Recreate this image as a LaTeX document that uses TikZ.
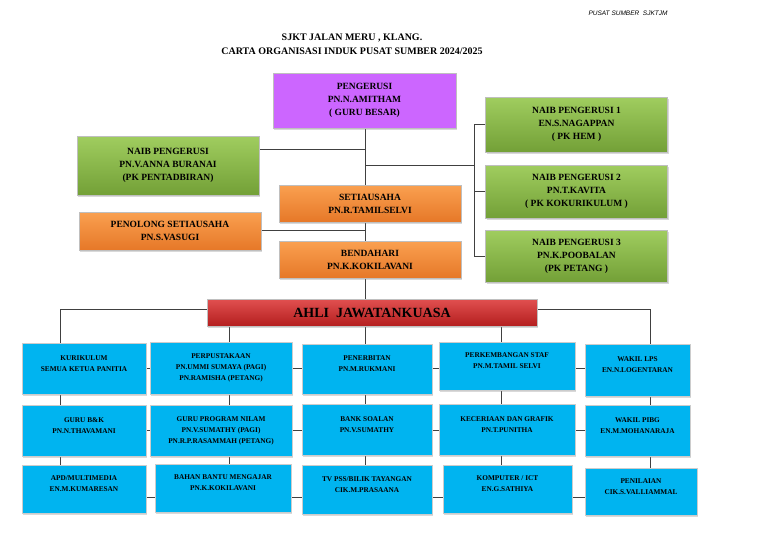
\documentclass[tikz,border=0pt]{standalone}
\usepackage{fontspec}
\setmainfont{Liberation Serif}
\newfontfamily\sansit{Liberation Sans}
\usetikzlibrary{positioning,shadows}
\definecolor{ungu}{RGB}{204,102,255}
\definecolor{hijauA}{RGB}{160,205,95}
\definecolor{hijauB}{RGB}{115,160,55}
\definecolor{oren}{RGB}{250,160,80}
\definecolor{orenB}{RGB}{230,120,40}
\definecolor{biru}{RGB}{0,180,240}
\definecolor{merahA}{RGB}{225,80,80}
\definecolor{merahB}{RGB}{180,30,30}
\tikzset{
  kotak/.style={draw=black!25,align=center,inner sep=1pt,font=\bfseries\fontsize{9.5}{13}\selectfont,drop shadow={opacity=0.3,shadow xshift=1pt,shadow yshift=-1.5pt}},
  hijau/.style={kotak,top color=hijauA,bottom color=hijauB,minimum width=182pt},
  jingga/.style={kotak,top color=oren,bottom color=orenB,minimum width=182pt},
  biruk/.style={draw=black!20,fill=biru,align=center,anchor=north,inner sep=2pt,font=\bfseries\fontsize{7.3}{11}\selectfont,drop shadow={opacity=0.3,shadow xshift=1pt,shadow yshift=-1.5pt}},
  garis/.style={draw=black!75,line width=0.8pt}
}
\begin{document}
\begin{tikzpicture}[x=1pt,y=-1pt]
  \useasboundingbox (0,0) rectangle (768,544);
  %tajuk
  \node[font=\sansit\itshape\fontsize{6.5}{8}\selectfont] (pusat) at (628,13) {PUSAT SUMBER\ \ SJKTJM};
  \node[font=\bfseries\fontsize{10}{14}\selectfont,align=center] (tajuk) at (352,44) {SJKT JALAN MERU , KLANG.\\CARTA ORGANISASI INDUK PUSAT SUMBER 2024/2025};
  %garis belakang
  \coordinate (b1) at (474,124.5);
  \coordinate (b2) at (474,191.5);
  \coordinate (b3) at (474,256);
  \coordinate (kiri) at (60,309);
  \coordinate (kanan) at (650,309);
  \draw[garis] (365,128) -- (365,299);
  \draw[garis] (365,165) -- (b2 |- 0,165);
  \draw[garis] (b1) -- (b3);
  \draw[garis] (259,149) -- (365,149);
  \draw[garis] (261,230) -- (365,230);
  \draw[garis] (kiri) -- (207,309);
  \draw[garis] (537,309) -- (kanan);
  \draw[garis] (kiri) -- (60,465);
  \draw[garis] (kanan) -- (650,468);
  \foreach \xx in {229,365,501}
    \draw[garis] (\xx,326) -- (\xx,465);
  \foreach \yy in {368,430,497}
    \draw[garis] (146,\yy) -- (585,\yy);
  %atas
  \node[kotak,fill=ungu,minimum width=183pt,minimum height=55pt] (peng) at (364.5,100.5) {PENGERUSI\\PN.N.AMITHAM\\( GURU BESAR)};
  \node[hijau,minimum height=59pt] (naibL) at (168,165.5) {NAIB PENGERUSI\\PN.V.ANNA BURANAI\\(PK PENTADBIRAN)};
  \node[jingga,minimum height=37pt] (setia) at (370,203.5) {SETIAUSAHA\\PN.R.TAMILSELVI};
  \node[jingga,minimum height=38pt] (penol) at (170,231) {PENOLONG SETIAUSAHA\\PN.S.VASUGI};
  \node[jingga,minimum height=37pt] (benda) at (370,259.5) {BENDAHARI\\PN.K.KOKILAVANI};
  \node[hijau,minimum height=55pt] (naib1) at (576.5,124.5) {NAIB PENGERUSI 1\\EN.S.NAGAPPAN\\( PK HEM )};
  \node[hijau,minimum height=53pt] (naib2) at (576.5,191.5) {NAIB PENGERUSI 2\\PN.T.KAVITA\\( PK KOKURIKULUM )};
  \node[hijau,minimum height=52pt] (naib3) at (576.5,256) {NAIB PENGERUSI 3\\PN.K.POOBALAN\\(PK PETANG )};
  \draw[garis] (naib1.west) -- (b1);
  \draw[garis] (naib2.west) -- (b2);
  \draw[garis] (naib3.west) -- (b3);
  \node[kotak,top color=merahA,bottom color=merahB,minimum width=330pt,minimum height=27pt,font=\bfseries\fontsize{14}{16}\selectfont] (ahli) at (372,312.5) {AHLI\ \ JAWATANKUASA};
  %baris 1
  \node[biruk,minimum width=124pt,minimum height=51pt] (kuri) at (84,343) {KURIKULUM\\SEMUA KETUA PANITIA\\};
  \node[biruk,minimum width=142pt,minimum height=52pt] (perp) at (221,342) {PERPUSTAKAAN\\PN.UMMI SUMAYA (PAGI)\\PN.RAMISHA (PETANG)};
  \node[biruk,minimum width=130pt,minimum height=50pt] (pener) at (367,344) {PENERBITAN\\PN.M.RUKMANI\\};
  \node[biruk,minimum width=136pt,minimum height=48pt] (staf) at (507,342) {PERKEMBANGAN STAF\\PN.M.TAMIL SELVI\\};
  \node[biruk,minimum width=105pt,minimum height=52pt] (lps) at (637.5,344) {WAKIL LPS\\EN.N.LOGENTARAN\\};
  %baris 2
  \node[biruk,minimum width=124pt,minimum height=51pt] (bk) at (84,405) {GURU B\&K\\PN.N.THAVAMANI\\};
  \node[biruk,minimum width=142pt,minimum height=51pt] (nilam) at (221,405) {GURU PROGRAM NILAM\\PN.V.SUMATHY (PAGI)\\PN.R.P.RASAMMAH (PETANG)};
  \node[biruk,minimum width=130pt,minimum height=51pt] (bank) at (367,404) {BANK SOALAN\\PN.V.SUMATHY\\};
  \node[biruk,minimum width=136pt,minimum height=51pt] (ceria) at (507,404) {KECERIAAN DAN GRAFIK\\PN.T.PUNITHA\\};
  \node[biruk,minimum width=105pt,minimum height=51pt] (pibg) at (637.5,405) {WAKIL PIBG\\EN.M.MOHANARAJA\\};
  %baris 3
  \node[biruk,minimum width=124pt,minimum height=48pt] (apd) at (84,465) {APD/MULTIMEDIA\\EN.M.KUMARESAN\\};
  \node[biruk,minimum width=136pt,minimum height=48pt] (bbm) at (223,464) {BAHAN BANTU MENGAJAR\\PN.K.KOKILAVANI\\};
  \node[biruk,minimum width=130pt,minimum height=49pt] (tv) at (367,465) {TV PSS/BILIK TAYANGAN\\CIK.M.PRASAANA\\};
  \node[biruk,minimum width=129pt,minimum height=48pt] (ict) at (507.5,465) {KOMPUTER / ICT\\EN.G.SATHIYA\\};
  \node[biruk,minimum width=112pt,minimum height=47pt] (nilai) at (641,468) {PENILAIAN\\CIK.S.VALLIAMMAL\\};
\end{tikzpicture}
\end{document}
